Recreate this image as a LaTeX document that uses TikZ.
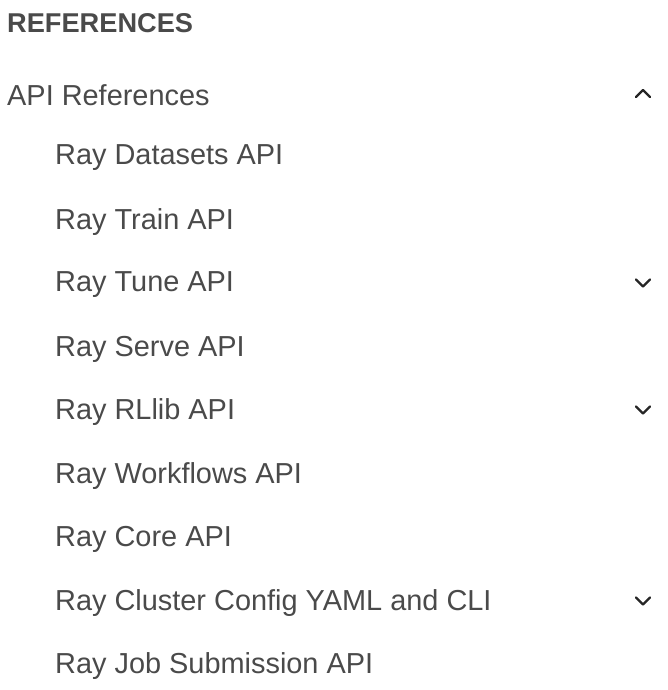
\documentclass[tikz,border=0pt]{standalone}
\usepackage{fontspec}
\setmainfont{Liberation Sans}
\definecolor{txt}{HTML}{4A4A4A}
\begin{document}
\begin{tikzpicture}[x=1pt,y=-1pt,
  item/.style={anchor=west,inner sep=0pt,text=txt,font=\fontsize{28.9}{32}\selectfont},
  chev/.style={draw=black!85,line width=2.4pt,line cap=round,line join=round}]
\useasboundingbox (0,0) rectangle (668,690);
\node[item,font=\fontsize{27.2}{30}\selectfont\bfseries] (ref) at (7,23) {REFERENCES};
\node[item] (api) at (7,95) {API References};
\node[item] (i1) at (55,158) {Ray Datasets API};
\node[item] (i2) at (55,222) {Ray Train API};
\node[item] (i3) at (55,285) {Ray Tune API};
\node[item] (i4) at (55,349) {Ray Serve API};
\node[item] (i5) at (55,412) {Ray RLlib API};
\node[item] (i6) at (55,476) {Ray Workflows API};
\node[item] (i7) at (55,539) {Ray Core API};
\node[item] (i8) at (55,603) {Ray Cluster Config YAML and CLI};
\node[item] (i9) at (55,666) {Ray Job Submission API};
\draw[chev] (636,97) -- (643,90) -- (650,97);
\foreach \y in {283,410,601}{\draw[chev] (636,\y-3.5) -- (643,\y+3.5) -- (650,\y-3.5);}
\end{tikzpicture}
\end{document}
